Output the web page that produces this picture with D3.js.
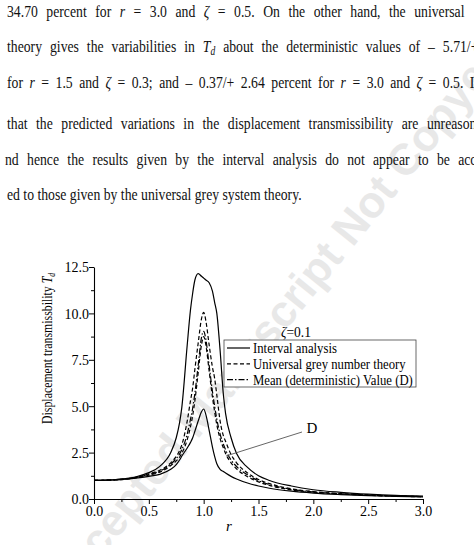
<!DOCTYPE html>
<html><head><meta charset="utf-8">
<script src="https://cdn.jsdelivr.net/npm/d3@7"></script>
<style>body{margin:0;background:#fff}svg{display:block}</style>
</head><body>
<script>
// ---- data ----
const rValues = [0, 0.2, 0.4, 0.5, 0.6, 0.7, 0.75, 0.78, 0.8, 0.85, 0.88, 0.9, 0.92, 0.95, 0.98, 1.0, 1.02, 1.05, 1.08, 1.1, 1.12, 1.15, 1.18, 1.2, 1.25, 1.3, 1.4, 1.5, 1.6, 1.8, 2.0, 2.25, 2.5, 2.75, 3.0];
const intervalUpper = [1.0, 1.05, 1.22, 1.42, 1.76, 2.5, 3.3, 4.1, 4.9, 8.3, 10.2, 11.1, 11.8, 12.14, 12.0, 11.9, 11.8, 11.65, 11.2, 10.6, 10.0, 8.0, 5.6, 4.6, 3.3, 2.45, 1.7, 1.25, 1.0, 0.7, 0.5, 0.36, 0.26, 0.19, 0.15];
const intervalLower = [1.0, 1.03, 1.14, 1.22, 1.33, 1.6, 1.85, 2.1, 2.3, 2.75, 3.05, 3.3, 3.65, 4.2, 4.7, 4.85, 4.55, 3.7, 2.8, 2.3, 1.9, 1.6, 1.48, 1.4, 1.22, 1.08, 0.86, 0.7, 0.58, 0.42, 0.32, 0.24, 0.18, 0.14, 0.11];
const greyUpper = [1.0, 1.04, 1.19, 1.36, 1.55, 1.95, 2.3, 2.6, 2.9, 4.2, 5.3, 6.0, 7.0, 8.4, 9.7, 10.05, 9.6, 8.3, 7.1, 6.5, 5.6, 4.2, 3.4, 3.1, 2.4, 1.95, 1.4, 1.05, 0.83, 0.55, 0.4, 0.29, 0.22, 0.17, 0.13];
const greyLower = [1.0, 1.03, 1.16, 1.28, 1.45, 1.8, 2.05, 2.25, 2.45, 3.2, 3.9, 4.5, 5.3, 6.8, 8.3, 8.75, 8.3, 6.9, 5.5, 4.7, 4.0, 3.25, 2.75, 2.45, 1.95, 1.62, 1.2, 0.92, 0.73, 0.49, 0.36, 0.27, 0.2, 0.15, 0.12];
const meanValue = [1.0, 1.04, 1.18, 1.32, 1.5, 1.88, 2.18, 2.42, 2.65, 3.5, 4.3, 4.9, 5.7, 7.2, 8.7, 9.03, 8.6, 7.2, 5.8, 5.0, 4.3, 3.5, 2.95, 2.65, 2.1, 1.75, 1.3, 0.98, 0.78, 0.52, 0.38, 0.28, 0.21, 0.16, 0.13];
const xTickValues = [0, 0.5, 1.0, 1.5, 2.0, 2.5, 3.0];
const yTickValues = [0, 2.5, 5.0, 7.5, 10.0, 12.5];
const legendLabels = ["Interval analysis", "Universal grey number theory", "Mean (deterministic) Value (D)"];

const W = 474, H = 545;
const svg = d3.select("body").append("svg").attr("width", W).attr("height", H)
  .style("font-family", "'Liberation Serif','Times New Roman',serif");

// watermark
svg.append("text")
  .attr("transform", "translate(302,292) rotate(-51)")
  .attr("text-anchor", "middle").attr("dominant-baseline", "middle")
  .style("font-family", "'Liberation Sans',Arial,sans-serif")
  .style("font-weight", "bold").style("font-size", "44px")
  .attr("fill", "#e8e8e8")
  .text("Accepted Manuscript Not Copyedited");

// paragraph
const PARA_FONT = 16.5;
const para = [
  {x: 7, y: 17, end: 465, justify: true, segs: [["34.70 percent for ", 0], ["r", 1], [" = 3.0 and ", 0], ["ζ", 1], [" = 0.5. On the other hand, the universal", 0]]},
  {x: 7, y: 52, end: 479, justify: true, segs: [["theory gives the variabilities in ", 0], ["T", 1], ["d", 2], [" about the deterministic values of – 5.71/+", 0]]},
  {x: 7, y: 88, end: 475, justify: true, segs: [["for ", 0], ["r", 1], [" = 1.5 and ", 0], ["ζ", 1], [" = 0.3; and – 0.37/+ 2.64 percent for ", 0], ["r", 1], [" = 3.0 and ", 0], ["ζ", 1], [" = 0.5. I", 0]]},
  {x: 7, y: 129, end: 477, justify: true, segs: [["that the predicted variations in the displacement transmissibility are unreason", 0]]},
  {x: 5, y: 165, end: 477, justify: true, segs: [["nd hence the results given by the interval analysis do not appear to be acc", 0]]},
  {x: 7, y: 200, end: 302, justify: false, segs: [["ed to those given by the universal grey system theory.", 0]]}
];
function buildLine(g, line) {
  const t = g.append("text").attr("x", 0).attr("y", 0).style("font-size", PARA_FONT + "px").attr("fill", "#111");
  line.segs.forEach(s => {
    const ts = t.append("tspan").text(s[0]);
    if (s[1] >= 1) ts.style("font-style", "italic");
    if (s[1] === 2) ts.attr("baseline-shift", "-30%").style("font-size", "11.5px");
  });
  return t;
}
// glyph compression taken from the last (unjustified) line
const lastLine = para[para.length - 1];
const probe = buildLine(svg.append("g"), lastLine);
const GLYPH_SCALE = (lastLine.end - lastLine.x) / probe.node().getComputedTextLength();
probe.node().parentNode.remove();

para.forEach(line => {
  const g = svg.append("g");
  const t = buildLine(g, line);
  const w = t.node().getComputedTextLength();
  if (line.justify) {
    const nSpaces = line.segs.map(s => s[0]).join("").split(" ").length - 1;
    const target = (line.end - line.x) / GLYPH_SCALE;
    t.style("word-spacing", `${(target - w) / nSpaces}px`);
  }
  g.attr("transform", `translate(${line.x},${line.y}) scale(${GLYPH_SCALE},1)`);
});

// scales
const x = d3.scaleLinear().domain([0, 3]).range([94, 423]);
const y = d3.scaleLinear().domain([0, 12.5]).range([499, 267]);

// axes
const xAxis = svg.append("g").attr("transform", "translate(0,499)")
  .call(d3.axisBottom(x).tickValues(xTickValues).tickFormat(d3.format(".1f")).tickSize(5).tickSizeOuter(0));
svg.append("g").attr("transform", "translate(0,499)")
  .call(d3.axisBottom(x).tickValues(d3.range(0.25, 3, 0.5)).tickFormat("").tickSize(3).tickSizeOuter(0))
  .select(".domain").remove();
const yAxis = svg.append("g").attr("transform", "translate(94,0)")
  .call(d3.axisLeft(y).tickValues(yTickValues).tickFormat(d3.format(".1f")).tickSize(5).tickSizeOuter(0));
svg.append("g").attr("transform", "translate(94,0)")
  .call(d3.axisLeft(y).tickValues(d3.range(1.25, 12.5, 2.5)).tickFormat("").tickSize(3).tickSizeOuter(0))
  .select(".domain").remove();
svg.selectAll(".domain").attr("stroke", "#000").attr("stroke-width", 1.1);
svg.selectAll(".tick line").attr("stroke", "#000");
xAxis.selectAll("text").style("font-family", "'Liberation Serif',serif").style("font-size", "14px").attr("fill", "#000").attr("dy", "0.85em").attr("y", 5);
yAxis.selectAll("text").style("font-family", "'Liberation Serif',serif").style("font-size", "14px").attr("fill", "#000").attr("x", -5).attr("dy", "0.35em");

// axis titles
const ylab = svg.append("g");
const ylt = ylab.append("text").style("font-size", "15.5px").attr("fill", "#000");
ylt.append("tspan").text("Displacement transmissbility ");
ylt.append("tspan").text("T").style("font-style", "italic");
ylt.append("tspan").text("d").style("font-style", "italic").style("font-size", "10px").attr("baseline-shift", "-30%");
const ylw = ylt.node().getBBox().width;
ylab.attr("transform", `translate(52,424) rotate(-90) scale(${152 / ylw},1)`);

svg.append("text").attr("x", 229).attr("y", 531).attr("text-anchor", "middle")
  .style("font-size", "15px").style("font-style", "italic").text("r");

// curves
const series = [
  {vals: intervalUpper, dash: null},
  {vals: intervalLower, dash: null},
  {vals: greyUpper, dash: "4,2.5"},
  {vals: greyLower, dash: "4,2.5"},
  {vals: meanValue, dash: "6,2,1.5,2"}
];
const line = d3.line().x(d => x(d[0])).y(d => y(d[1])).curve(d3.curveMonotoneX);
series.forEach(s => {
  svg.append("path").datum(rValues.map((r, i) => [r, s.vals[i]]))
    .attr("d", line).attr("fill", "none").attr("stroke", "#000")
    .attr("stroke-width", 1.2).attr("stroke-dasharray", s.dash);
});

// legend
svg.append("rect").attr("x", 224).attr("y", 340).attr("width", 192).attr("height", 47)
  .attr("fill", "#fff").attr("stroke", "#444").attr("stroke-width", 0.8);
const zg = svg.append("g");
const zt = zg.append("text").style("font-size", "15px").attr("fill", "#000");
zt.append("tspan").text("ζ").style("font-style", "italic");
zt.append("tspan").text("=0.1");
zg.attr("transform", `translate(281,337) scale(${30 / zt.node().getBBox().width},1)`);

const legDash = [null, "4,2.5", "6,2,1.5,2"];
const legW = [84, 153, 160];
legendLabels.forEach((lab, i) => {
  const cy = 348 + i * 15.8;
  svg.append("line").attr("x1", 227).attr("x2", 250).attr("y1", cy).attr("y2", cy)
    .attr("stroke", "#000").attr("stroke-width", 1.2).attr("stroke-dasharray", legDash[i]);
  const g = svg.append("g");
  const t = g.append("text").style("font-size", "15.5px").attr("fill", "#000").attr("dy", "0.33em").text(lab);
  g.attr("transform", `translate(253,${cy}) scale(${legW[i] / t.node().getBBox().width},1)`);
});

// annotation D
svg.append("line").attr("x1", 302).attr("y1", 432).attr("x2", 226).attr("y2", 456)
  .attr("stroke", "#555").attr("stroke-width", 0.9);
svg.append("text").attr("x", 312).attr("y", 433).attr("text-anchor", "middle")
  .style("font-size", "15px").attr("fill", "#000").text("D");
</script>
</body></html>
